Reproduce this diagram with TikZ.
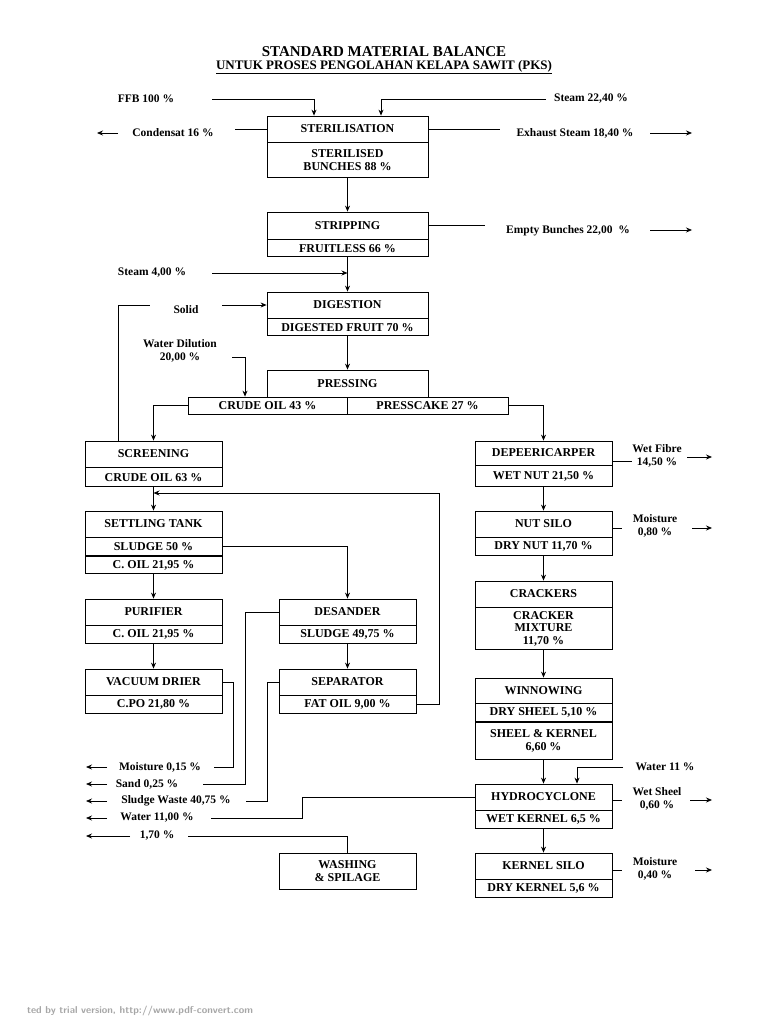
\documentclass[tikz,border=0pt]{standalone}
\usepackage{fontspec}
\setmainfont{Liberation Serif}
\usetikzlibrary{positioning, arrows.meta}

\tikzset{
  cell/.style={draw, thick, fill=white, inner sep=0pt, align=center, font=\fontsize{12}{12.5}\selectfont\bfseries},
  wide/.style={cell, minimum width=161pt},
  col/.style={cell, minimum width=137pt},
  lbl/.style={inner sep=0pt, align=center, font=\fontsize{11.5}{12.5}\selectfont\bfseries},
  flow/.style={thick, -{Stealth[length=6pt,width=5pt]}},
  wire/.style={thick}
}

\begin{document}
\begin{tikzpicture}[x=1pt, y=-1pt]
  \useasboundingbox (0,0) rectangle (768,1024);

  % Title
  \node[lbl, font=\fontsize{15}{16}\selectfont\bfseries] (title) at (384,52) {STANDARD MATERIAL BALANCE};
  \node[lbl, font=\fontsize{13}{14}\selectfont\bfseries] (subtitle) at (384,67) {\underline{UNTUK PROSES PENGOLAHAN KELAPA SAWIT (PKS)}};

  % Main column
  \node[wide, minimum height=26] (ster) at (347.5,129) {STERILISATION};
  \node[wide, minimum height=35, below=0pt of ster] (sterb) {STERILISED\\BUNCHES 88 \%};
  \node[wide, minimum height=27] (strip) at (347.5,225.5) {STRIPPING};
  \node[wide, minimum height=17, below=0pt of strip] (stripb) {FRUITLESS 66 \%};
  \node[wide, minimum height=26] (dig) at (347.5,305) {DIGESTION};
  \node[wide, minimum height=17, below=0pt of dig] (digb) {DIGESTED FRUIT 70 \%};
  \node[wide, minimum height=27] (press) at (347.5,383.5) {PRESSING};
  \node[cell, minimum width=159pt, minimum height=17] (crude) at (267.5,405.5) {CRUDE OIL 43 \%};
  \node[cell, minimum width=161pt, minimum height=17] (cake) at (427.5,405.5) {PRESSCAKE 27 \%};

  % Left column
  \node[col, minimum height=26] (scr) at (153.5,454) {SCREENING};
  \node[col, minimum height=19, below=0pt of scr] (scrb) {CRUDE OIL 63 \%};
  \node[col, minimum height=26] (sett) at (153.5,524) {SETTLING TANK};
  \node[col, minimum height=18, below=0pt of sett] (settb) {SLUDGE 50 \%};
  \node[col, minimum height=17, below=0pt of settb] (settc) {C. OIL 21,95 \%};
  \node[col, minimum height=26] (pur) at (153.5,612) {PURIFIER};
  \node[col, minimum height=18, below=0pt of pur] (purb) {C. OIL 21,95 \%};
  \node[col, minimum height=26] (vac) at (153.5,682) {VACUUM DRIER};
  \node[col, minimum height=18, below=0pt of vac] (vacb) {C.PO 21,80 \%};

  % Middle column
  \node[col, minimum height=26] (des) at (347.5,612) {DESANDER};
  \node[col, minimum height=18, below=0pt of des] (desb) {SLUDGE 49,75 \%};
  \node[col, minimum height=26] (sep) at (347.5,682) {SEPARATOR};
  \node[col, minimum height=18, below=0pt of sep] (sepb) {FAT OIL 9,00 \%};
  \node[col, minimum height=36] (wash) at (347.5,871) {WASHING\\\& SPILAGE};

  % Right column
  \node[col, minimum height=24] (dep) at (543.5,453) {DEPEERICARPER};
  \node[col, minimum height=21, below=0pt of dep] (depb) {WET NUT 21,50 \%};
  \node[col, minimum height=26] (nut) at (543.5,524) {NUT SILO};
  \node[col, minimum height=18, below=0pt of nut] (nutb) {DRY NUT 11,70 \%};
  \node[col, minimum height=26] (crack) at (543.5,594) {CRACKERS};
  \node[col, minimum height=42, below=0pt of crack] (crackb) {CRACKER\\MIXTURE\\11,70 \%};
  \node[col, minimum height=25] (win) at (543.5,690.5) {WINNOWING};
  \node[col, minimum height=18, below=0pt of win] (winb) {DRY SHEEL 5,10 \%};
  \node[col, minimum height=37, below=0pt of winb] (winc) {SHEEL \& KERNEL\\6,60 \%};
  \node[col, minimum height=26] (hyd) at (543.5,797) {HYDROCYCLONE};
  \node[col, minimum height=18, below=0pt of hyd] (hydb) {WET KERNEL 6,5 \%};
  \node[col, minimum height=26] (ker) at (543.5,866) {KERNEL SILO};
  \node[col, minimum height=18, below=0pt of ker] (kerb) {DRY KERNEL 5,6 \%};

  % Labels
  \node[lbl] (ffb) at (146,99) {FFB 100 \%};
  \node[lbl] (steam) at (591,99) {Steam 22,40 \%};
  \node[lbl] (cond) at (173,133) {Condensat 16 \%};
  \node[lbl] (exh) at (575,133) {Exhaust Steam 18,40 \%};
  \node[lbl] (empty) at (568,231) {Empty Bunches 22,00~ \%};
  \node[lbl] (steamb) at (152,273) {Steam 4,00 \%};
  \node[lbl] (solid) at (186,310) {Solid};
  \node[lbl] (water) at (180,351) {Water Dilution\\20,00 \%};
  \node[lbl] (fibre) at (657,456) {Wet Fibre\\14,50 \%};
  \node[lbl] (moist) at (655,526) {Moisture\\0,80 \%};
  \node[lbl] (waterb) at (665,767) {Water 11 \%};
  \node[lbl] (sheel) at (657,799) {Wet Sheel\\0,60 \%};
  \node[lbl] (moistb) at (655,869) {Moisture\\0,40 \%};
  \node[lbl] (moistc) at (160,767) {Moisture 0,15 \%};
  \node[lbl] (sand) at (147,784) {Sand 0,25 \%};
  \node[lbl] (waste) at (176,801) {Sludge Waste 40,75 \%};
  \node[lbl] (waterc) at (157,818) {Water 11,00 \%};
  \node[lbl] (rest) at (157,836) {1,70 \%};
  \node[lbl, font=\fontsize{10}{11}\selectfont\bfseries\sffamily, text=black!35] (mark) at (140,1011) {ted by trial version, http://www.pdf-convert.com};

  % Inputs to sterilisation
  \draw[flow] (212,99) -| ([xshift=-33.5]ster.north);
  \draw[flow] (546,99) -| ([xshift=33.5]ster.north);
  \draw[wire] (ster.west) -- (235,129);
  \draw[flow] (118,133) -- (97,133);
  \draw[wire] (ster.east) -- (500,129);
  \draw[flow] (650,133) -- (692,133);
  \draw[wire] (strip.east) -- (485,225.5);
  \draw[flow] (650,230) -- (692,230);

  % Main chain
  \draw[flow] (sterb) -- (strip);
  \draw[flow] (stripb) -- (dig);
  \draw[flow] (212,273) -- (347.5,273);
  \draw[flow] (222,305) -- (dig.west);
  \draw[wire] (scr.north -| 118,0) |- (150,305);
  \draw[flow] (232,357) -| ([xshift=-22.5]crude.north);
  \draw[flow] (digb) -- (press);
  \draw[flow] (crude.west) -| (scr.north);
  \draw[flow] (cake.east) -| (dep.north);

  % Left chain
  \draw[flow] (scrb) -- (sett);
  \draw[flow] (settc) -- (pur);
  \draw[flow] (purb) -- (vac);
  \draw[flow] (settb.east) -| (des.north);
  \draw[flow] (desb) -- (sep);
  \draw[flow] (sepb.east) -| (439,493) -- (153.5,493);
  \draw[wire] (vac.east) -| (233,767) -- (214,767);
  \draw[flow] (107,767) -- (86,767);
  \draw[wire] (des.west) -| (245,784) -- (203,784);
  \draw[flow] (107,784) -- (86,784);
  \draw[wire] (sep.west) -| (267,801) -- (246,801);
  \draw[flow] (107,801) -- (86,801);
  \draw[wire] (hyd.west) -| (302,818) -- (211,818);
  \draw[flow] (107,818) -- (86,818);
  \draw[wire] (wash.north) |- (188,836);
  \draw[flow] (130,836) -- (86,836);

  % Right chain
  \draw[flow] (depb) -- (nut);
  \draw[flow] (nutb) -- (crack);
  \draw[flow] (crackb) -- (win);
  \draw[flow] (winc) -- (hyd);
  \draw[flow] (623,767) -| ([xshift=33.5]hyd.north);
  \draw[flow] (hydb) -- (ker);
  \draw[wire] (dep.south east) ++(0,-4) -- ++(20,0);
  \draw[flow] (687,457) -- (712,457);
  \draw[wire] (nut.south east) ++(0,-9) -- ++(10,0);
  \draw[flow] (692,528) -- (712,528);
  \draw[wire] (hyd.east) ++(0,3) -- ++(10,0);
  \draw[flow] (690,800) -- (712,800);
  \draw[wire] (ker.east) ++(0,4) -- ++(10,0);
  \draw[flow] (695,870) -- (712,870);
\end{tikzpicture}
\end{document}
